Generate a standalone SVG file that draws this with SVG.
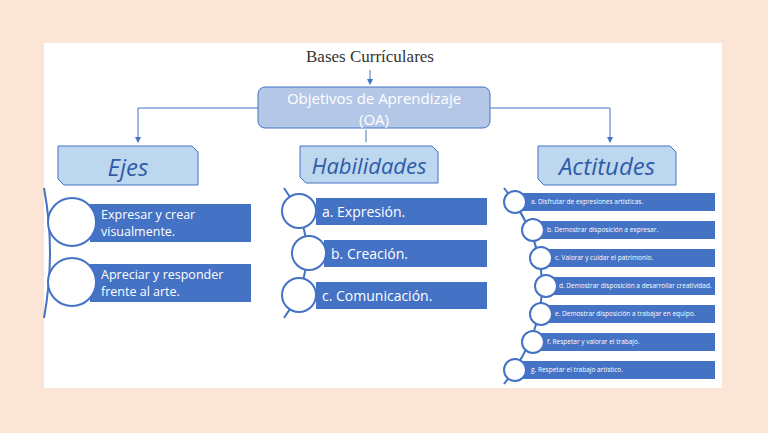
<svg xmlns="http://www.w3.org/2000/svg" width="768" height="433" viewBox="0 0 768 433">
<defs><marker id="ar" markerWidth="6" markerHeight="6" refX="5" refY="3" orient="auto"><path d="M0,0L6,3L0,6z" fill="#4472c4"/></marker></defs>
<style>
.hd{fill:#bdd7ee;stroke:#4472c4;stroke-width:1}
.bar{fill:#4472c4}
.ci{fill:#fff;stroke:#4472c4;stroke-width:2}
.sp{fill:none;stroke:#4472c4;stroke-width:2}
.t{font-family:"Open Sans","Noto Sans",sans-serif;fill:#fff}
.h{font-family:"Open Sans","Noto Sans",sans-serif;font-style:italic;fill:#2e5ca8;text-anchor:middle}
.c{stroke:#4472c4;stroke-width:1;fill:none}
</style>
<rect width="768" height="433" fill="#fbe5d6"/>
<rect x="44" y="43" width="678" height="345" fill="#fff"/>
<text x="370" y="62" text-anchor="middle" font-family="Liberation Serif,serif" font-size="17" fill="#333">Bases Currículares</text>
<g id="connectors">
<path class="c" d="M370,70V84" marker-end="url(#ar)"/>
<path class="c" d="M258,108H138V142" marker-end="url(#ar)"/>
<path class="c" d="M490,108H610V142" marker-end="url(#ar)"/>
<path class="c" d="M366,130V142"/>
</g>
<g id="oa"><rect x="258" y="87" width="232" height="41" rx="7" fill="#b4c7e7" stroke="#4472c4"/>
<text class="t" x="374" y="104" text-anchor="middle" font-size="15">Objetivos de Aprendizaje</text>
<text class="t" x="374" y="125" text-anchor="middle" font-size="15">(OA)</text></g>
<g id="ejes"><path class="hd" d="M58,146H192L198,152V185H64L58,179z"/><text class="h" x="128" y="176" font-size="24">Ejes</text></g>
<g id="habilidades"><path class="hd" d="M300,146H432L438,152V183H306L300,177z"/><text class="h" x="369" y="174" font-size="22">Habilidades</text></g>
<g id="actitudes"><path class="hd" d="M538,146H670L676,152V185H544L538,179z"/><text class="h" x="607" y="175" font-size="24">Actitudes</text></g>
<g id="ejes-list">
<path class="sp" d="M44,188Q56,252 44,318"/>
<rect class="bar" x="90" y="204" width="161" height="38"/><rect class="bar" x="90" y="264" width="161" height="38"/>
<circle class="ci" cx="72" cy="222" r="24"/><circle class="ci" cx="72" cy="282" r="24"/>
<text class="t" font-size="12.5"><tspan x="101" y="219">Expresar y crear</tspan><tspan x="101" y="236">visualmente.</tspan></text>
<text class="t" font-size="12.5"><tspan x="101" y="279">Apreciar y responder</tspan><tspan x="101" y="296">frente al arte.</tspan></text>
</g>
<g id="hab-list">
<path class="sp" d="M284,188Q330,253 284,318"/>
<rect class="bar" x="316" y="198" width="171" height="27"/><rect class="bar" x="324" y="240" width="163" height="27"/><rect class="bar" x="316" y="282" width="171" height="27"/>
<circle class="ci" cx="299" cy="211" r="17"/><circle class="ci" cx="309" cy="253" r="17"/><circle class="ci" cx="299" cy="295" r="17"/>
<text class="t" font-size="14" x="322" y="217">a. Expresión.</text>
<text class="t" font-size="14" x="331" y="259">b. Creación.</text>
<text class="t" font-size="14" x="322" y="301">c. Comunicación.</text>
</g>
<g id="act-list">
<path class="sp" d="M504,188Q580,286 504,384"/>
<g class="bar"><rect x="521" y="193" width="194" height="18"/><rect x="538" y="221" width="177" height="18"/><rect x="547" y="249" width="168" height="18"/><rect x="551" y="277" width="164" height="18"/><rect x="547" y="305" width="168" height="18"/><rect x="538" y="333" width="177" height="18"/><rect x="521" y="361" width="194" height="18"/></g>
<circle class="ci" cx="515" cy="202" r="11"/><circle class="ci" cx="533" cy="230" r="11"/><circle class="ci" cx="541" cy="258" r="11"/><circle class="ci" cx="546" cy="286" r="11"/><circle class="ci" cx="541" cy="314" r="11"/><circle class="ci" cx="533" cy="342" r="11"/><circle class="ci" cx="515" cy="370" r="11"/>
<g class="t" font-size="6.5"><text x="531" y="204">a. Disfrutar de expresiones artísticas.</text><text x="547" y="232">b. Demostrar disposición a expresar.</text><text x="555" y="260">c. Valorar y cuidar el patrimonio.</text><text x="559" y="288">d. Demostrar disposición a desarrollar creatividad.</text><text x="555" y="316">e. Demostrar disposición a trabajar en equipo.</text><text x="547" y="344">f. Respetar y valorar el trabajo.</text><text x="531" y="372">g. Respetar el trabajo artístico.</text></g>
</g>
</svg>
